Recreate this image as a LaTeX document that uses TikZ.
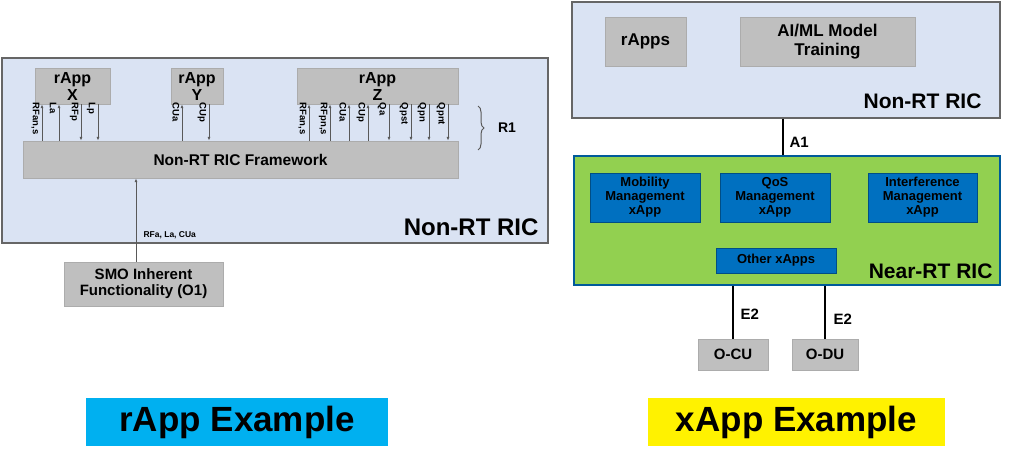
\documentclass[tikz,border=0pt]{standalone}
\usepackage{fontspec}
\setmainfont{Liberation Sans}
\usetikzlibrary{decorations.pathreplacing,arrows.meta}
\definecolor{panel}{HTML}{DAE3F3}
\definecolor{gbox}{HTML}{BFBFBF}
\definecolor{nbl}{HTML}{0070C0}
\definecolor{ngr}{HTML}{92D050}
\definecolor{cy}{HTML}{00B0F0}
\newcommand{\fs}[1]{\bfseries\fontsize{#1}{#1}\selectfont}
\begin{document}
\begin{tikzpicture}[x=1pt,y=-1pt,
  panelbox/.style={draw=gray!80!black,line width=1.2pt,fill=panel,inner sep=0pt},
  gb/.style={fill=gbox,draw=gbox!90!black,inner sep=0pt,align=center},
  bb/.style={fill=nbl,draw=nbl!70!black,inner sep=0pt,font=\fs{13},align=center},
  sig/.style={gray!70!black,line width=0.9pt},
  up/.style={{Latex[length=4pt,width=3pt]}-},
  dn/.style={-{Latex[length=4pt,width=3pt]}},
  lab/.style={rotate=-90,anchor=north west,inner sep=0.5pt,font=\fs{9.5}},
  app/.style={gb,font=\fs{16}}]
\useasboundingbox (0,0) rectangle (1024,468);
% left
\node[panelbox,minimum width=546,minimum height=185] (lp) at (275,150.5) {};
\node[app,minimum width=75,minimum height=36] (X) at (72.5,86) {rApp\\[1pt]X};
\node[app,minimum width=52,minimum height=36] (Y) at (197,86) {rApp\\[1pt]Y};
\node[app,minimum width=161,minimum height=36] (Z) at (377.5,86) {rApp\\[1pt]Z};
\node[gb,minimum width=435,minimum height=37,font=\fs{15.5}] (fw) at (240.5,159.5) {Non-RT RIC Framework};
\foreach \x/\l/\d in {42/{RFan,s}/up,59/La/up,81/RFp/dn,98/Lp/dn,182/CUa/up,209/CUp/dn,309/{RFan,s}/up,330/{RFpn,s}/up,349/CUa/up,368/CUp/up,389/Qa/dn,411/Qpst/dn,429/Qpn/dn,448/Qpnt/dn}{
  \coordinate (t) at (\x,0 |- X.south);
  \coordinate (b) at (\x,0 |- fw.north);
  \draw[sig,\d] (t) -- (b);
  \node[lab] at ([xshift=-2,yshift=2]t) {\l};
}
\coordinate (br1) at (478,106);
\coordinate (br2) at (478,150);
\draw[gray!70!black,line width=1pt,decorate,decoration={brace,amplitude=6pt}] (br1) -- (br2);
\node[font=\fs{14}] (r1) at (507,128) {R1};
\node[font=\fs{24},anchor=south east] (lnr) at (542,239) {Non-RT RIC};
\node[gb,minimum width=159,minimum height=44,font=\fs{15}] (smo) at (143.5,284) {SMO Inherent\\[1pt]Functionality (O1)};
\draw[sig,dn] (smo.north -| 136,0) -- (fw.south -| 136,0);
\node[font=\fs{8.5},anchor=west] (o1) at (140,235) {RFa, La, CUa};
\node[fill=cy,minimum width=302,minimum height=48,inner sep=0pt,font=\fs{35}] (rex) at (237,422) {rApp Example};
% right
\node[panelbox,minimum width=428,minimum height=116] (rp) at (786,60) {};
\node[gb,minimum width=81,minimum height=49,font=\fs{17}] (ra) at (645.5,41.5) {rApps};
\node[gb,minimum width=175,minimum height=49,font=\fs{17}] (ai) at (827.5,41.5) {AI/ML Model\\[2pt]Training};
\node[font=\fs{21},anchor=south east] (rnr) at (985,112) {Non-RT RIC};
\node[fill=ngr,draw=nbl!80!black,line width=1.2pt,minimum width=426,minimum height=129,inner sep=0pt] (near) at (787,220.5) {};
\draw[line width=1.5pt] (rp.south -| 783,0) -- (near.north -| 783,0);
\node[font=\fs{15},anchor=west] (a1) at (786,142) {A1};
\node[bb,minimum width=110,minimum height=49] (mob) at (645,197.5) {Mobility\\[1pt]Management\\[1pt]xApp};
\node[bb,minimum width=110,minimum height=49] (qos) at (775,197.5) {QoS\\[1pt]Management\\[1pt]xApp};
\node[bb,minimum width=109,minimum height=49] (intf) at (922.5,197.5) {Interference\\[1pt]Management\\[1pt]xApp};
\node[bb,minimum width=120,minimum height=25] (oth) at (776,260.5) {Other xApps};
\node[font=\fs{21},anchor=south east] (nnr) at (996,282) {Near-RT RIC};
\node[gb,minimum width=70,minimum height=31,font=\fs{15}] (cu) at (733,354.5) {O-CU};
\node[gb,minimum width=66,minimum height=31,font=\fs{15}] (du) at (825,354.5) {O-DU};
\draw[line width=1.5pt] (near.south -| cu.north) -- (cu.north);
\draw[line width=1.5pt] (near.south -| du.north) -- (du.north);
\node[font=\fs{15},anchor=west] (e1) at (737,314) {E2};
\node[font=\fs{15},anchor=west] (e2) at (830,319) {E2};
\node[fill=yellow,minimum width=297,minimum height=48,inner sep=0pt,font=\fs{35}] (xex) at (796.5,422) {xApp Example};
\end{tikzpicture}
\end{document}
